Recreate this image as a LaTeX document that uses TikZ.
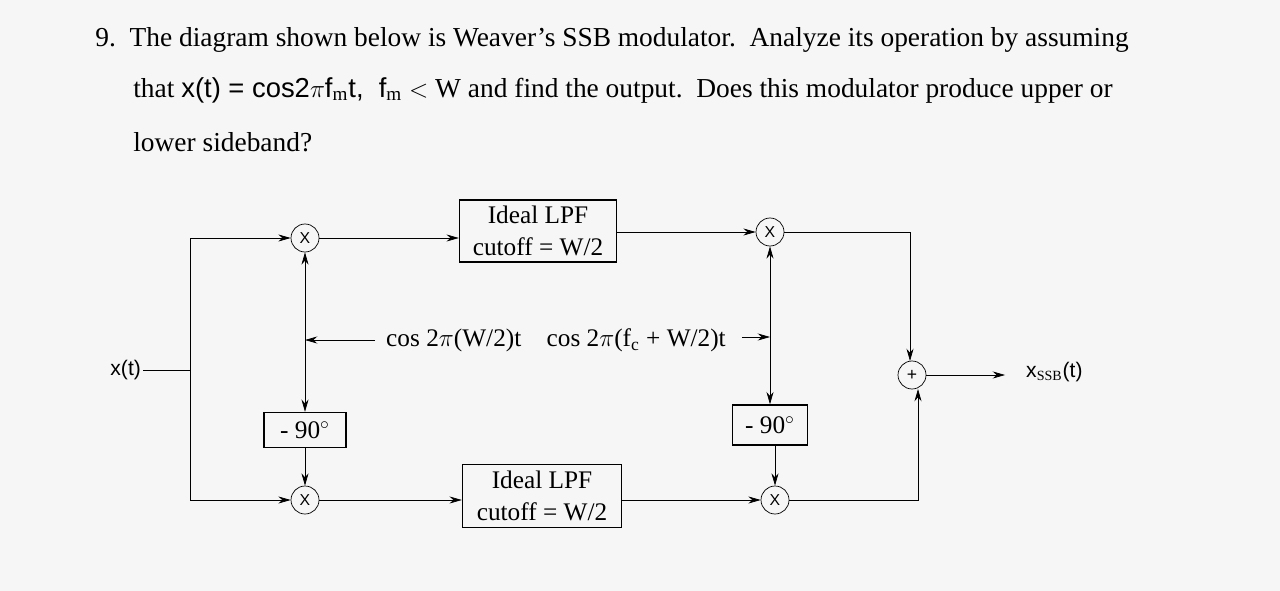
\documentclass[tikz,border=0pt]{standalone}
\usepackage{fontspec}
\setmainfont{Liberation Serif}
\newfontfamily\sansf{Liberation Sans}
\usetikzlibrary{arrows.meta}
\begin{document}
\begin{tikzpicture}[x=0.02cm,y=-0.02cm,
  mult/.style={draw,circle,minimum size=28*0.02cm,inner sep=0pt,font=\sansf\small},
  blk/.style={draw,thick,inner sep=2pt,font=\Large,align=center},
  line/.style={thin},
  arr/.style={thin,-{Stealth[length=7pt,width=4pt]}},
  txt/.style={anchor=west,font=\fontsize{15.6}{19}\selectfont,inner sep=0pt}]
\fill[white!93!gray] (0,0) rectangle (1280,591);
\useasboundingbox (0,0) rectangle (1280,591);
\node[txt] (t1) at (95,40) {9.\ \ The diagram shown below is Weaver's SSB modulator.\ \ Analyze its operation by assuming};
\node[txt] (t2) at (133,90) {that {\sansf x(t) = cos2$\pi$f$_{\mathrm{m}}$t,\ \ f$_{\mathrm{m}}$} $<$ W and find the output.\ \ Does this modulator produce upper or};
\node[txt] (t3) at (133,142) {lower sideband?};
% nodes
\node[mult] (m1) at (305,238) {X};
\node[mult] (m2) at (305,500) {X};
\node[mult] (m3) at (770,232) {X};
\node[mult] (m4) at (775,500) {X};
\node[mult,font=\sansf\normalsize] (ad) at (912,375) {+};
\node[blk,minimum width=157*0.02cm,minimum height=62*0.02cm] (l1) at (538,231) {Ideal LPF\\cutoff = W/2};
\node[blk,minimum width=159*0.02cm,minimum height=63*0.02cm] (l2) at (542,496) {Ideal LPF\\cutoff = W/2};
\node[blk,minimum width=82*0.02cm,minimum height=35*0.02cm] (p1) at (305,430) {- 90$^\circ$};
\node[blk,minimum width=75*0.02cm,minimum height=40*0.02cm] (p2) at (770,425) {- 90$^\circ$};
\node[anchor=east,font=\sansf\large,inner sep=1pt] (x) at (143,370) {x(t)};
\node[anchor=west,font=\sansf\large] (y) at (1020,372) {x$_{\mathrm{SSB}}$(t)};
\node[font=\Large] (osc) at (556,340) {cos 2$\pi$(W/2)t\quad cos 2$\pi$(f$_{\mathrm c}$ + W/2)t};
\coordinate (j) at (190,370);
\coordinate (c1) at (305,340);
\coordinate (c2) at (770,337);
% connectors
\draw[line] (x.east) -- (j);
\draw[arr] (j) |- (m1.west);
\draw[arr] (j) |- (m2.west);
\draw[arr] (m1.east) -- (l1.west|-m1);
\draw[arr] (m2.east) -- (l2.west|-m2);
\draw[arr] (l1.east|-m3) -- (m3.west);
\draw[arr] (l2.east|-m4) -- (m4.west);
\draw[arr] (osc.west) ++(-5,0) -- (c1);
\draw[arr] (osc.east) ++(10,-3) -- (c2);
\draw[arr] (c1) -- (m1.south);
\draw[arr] (c1) -- (p1.north);
\draw[arr] (p1.south) -- (m2.north);
\draw[arr] (c2) -- (m3.south);
\draw[arr] (c2) -- (p2.north);
\draw[arr] (p2.south-|m4) -- (m4.north);
\draw[arr] (m3.east) -| (910,361);
\draw[arr] (m4.east) -| (918,389);
\draw[arr] (ad.east) -- (1005,375);
\end{tikzpicture}
\end{document}
